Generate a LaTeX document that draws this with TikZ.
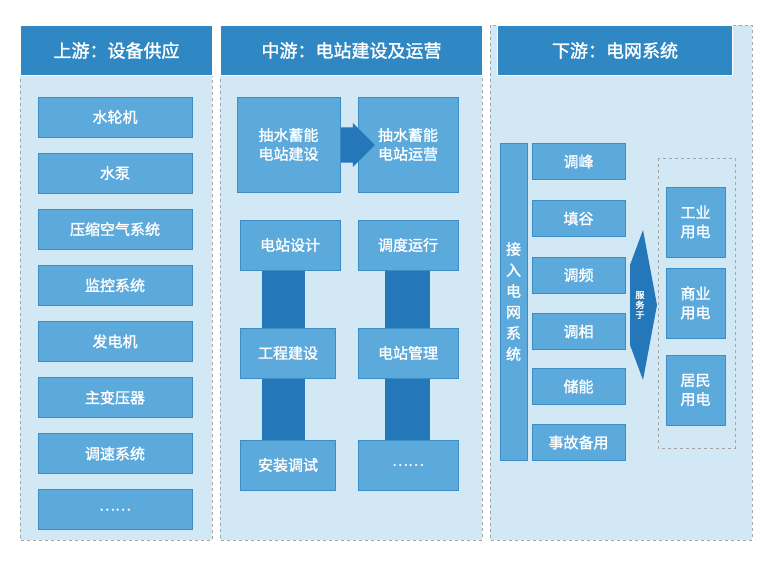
\documentclass[tikz,border=0pt]{standalone}
\usepackage{fontspec}
\newfontfamily\cjk[AutoFakeBold=1.5]{Noto Sans CJK SC}
\usetikzlibrary{shapes.arrows}
\definecolor{panel}{HTML}{D3E8F5}
\definecolor{boxc}{HTML}{5CA9DC}
\definecolor{boxb}{HTML}{3C8CC6}
\definecolor{head}{HTML}{2F88C4}
\definecolor{bar}{HTML}{2477B9}
\tikzset{
  panelbox/.style={draw=gray!70,dashed,fill=panel},
  headbox/.style={fill=head,draw=white,line width=1pt,text=white,font=\cjk\bfseries\fontsize{18}{18}\selectfont},
  item/.style={fill=boxc,draw=boxb,line width=1pt,text=white,font=\cjk\bfseries\fontsize{15}{19}\selectfont,align=center},
  barc/.style={fill=bar,draw=none},
}
\begin{document}
\begin{tikzpicture}[x=1pt,y=-1pt]
\useasboundingbox[fill=white] (0,0) rectangle (760,570);
% panels
\draw[panelbox] (20,25) rectangle (212,540);
\draw[panelbox] (220,25) rectangle (482,540);
\draw[panelbox] (490,25) rectangle (752,540);
\node[headbox,minimum width=192,minimum height=50,anchor=north west] (h1) at (20,25) {上游：设备供应};
\node[headbox,minimum width=262,minimum height=50,anchor=north west] (h2) at (220,25) {中游：电站建设及运营};
\node[headbox,minimum width=235,minimum height=50,anchor=north west] (h3) at (497,25) {下游：电网系统};
% left items
\foreach \t [count=\i] in {水轮机,水泵,压缩空气系统,监控系统,发电机,主变压器,调速系统,……}{
  \node[item,minimum width=154,minimum height=40] (l\i) at (115,{117+(\i-1)*56.1}) {\t};
}
% middle
\node[item,minimum width=103,minimum height=95] (m1) at (288.5,144.5) {抽水蓄能\\电站建设};
\node[item,minimum width=100,minimum height=95] (m2) at (408,144.5) {抽水蓄能\\电站运营};
\node[single arrow,fill=bar,minimum width=44,single arrow head extend=2,minimum height=26,inner sep=8pt,single arrow head indent=0pt] (ar1) at (349,145) {};
\fill[barc] (262,270) rectangle (305,440);
\fill[barc] (385,270) rectangle (430,440);
\node[item,minimum width=100,minimum height=50] (a1) at (290,245) {电站设计};
\node[item,minimum width=95,minimum height=50] (a2) at (288,353) {工程建设};
\node[item,minimum width=95,minimum height=50] (a3) at (288,465) {安装调试};
\node[item,minimum width=100,minimum height=50] (b1) at (408,245) {调度运行};
\node[item,minimum width=100,minimum height=50] (b2) at (408,353) {电站管理};
\node[item,minimum width=100,minimum height=50] (b3) at (408,465) {……};
% right
\node[item,minimum width=27,minimum height=317,inner sep=1pt,font=\cjk\bfseries\fontsize{15}{21}\selectfont] (g) at (513.5,301.5) {接\\入\\电\\网\\系\\统};
\foreach \t/\y [count=\i] in {调峰/161.5,填谷/218.5,调频/275,调相/331.5,储能/386.5,事故备用/442.5}{
  \node[item,minimum width=93,minimum height=36] (r\i) at (578.5,\y) {\t};
}
\fill[bar] (630,265) -- (643,230) -- (657,305) -- (643,380) -- (630,345) -- cycle;
\node[text=white,font=\cjk\bfseries\fontsize{9}{10}\selectfont,align=center,inner sep=0pt] (fw) at (640,305) {服\\务\\于};
\draw[draw=gray!70,dashed] (658,158) rectangle (735,448);
\node[item,minimum width=59,minimum height=70] (u1) at (695.5,222) {工业\\用电};
\node[item,minimum width=59,minimum height=70] (u2) at (695.5,303) {商业\\用电};
\node[item,minimum width=59,minimum height=70] (u3) at (695.5,390) {居民\\用电};
\end{tikzpicture}
\end{document}
